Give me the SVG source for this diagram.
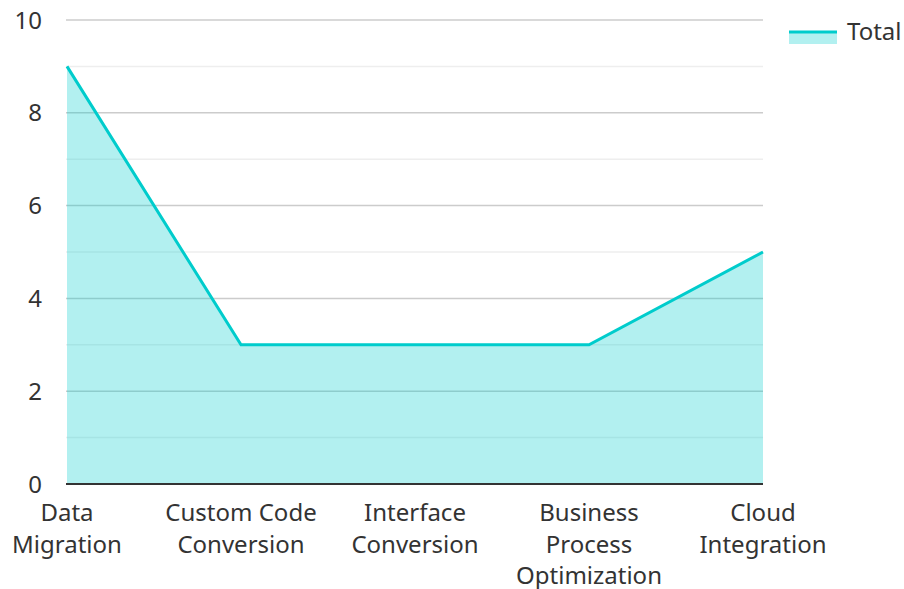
<svg xmlns="http://www.w3.org/2000/svg" width="904" height="589" viewBox="0 0 904 589">
<style>
text{font-family:"Noto Sans","Open Sans",sans-serif;font-size:24px;fill:#333}
.maj{stroke:#cccccc;stroke-width:1.5}
.min{stroke:#eeeeee;stroke-width:1.5}
.yl{text-anchor:end}
.xl{text-anchor:middle}
</style>
<rect width="904" height="589" fill="#fff"/>
<g id="grid">
<line class="min" x1="66" y1="66.4" x2="763" y2="66.4"/>
<line class="min" x1="66" y1="159.2" x2="763" y2="159.2"/>
<line class="min" x1="66" y1="252" x2="763" y2="252"/>
<line class="min" x1="66" y1="344.8" x2="763" y2="344.8"/>
<line class="min" x1="66" y1="437.6" x2="763" y2="437.6"/>
<line class="maj" x1="66" y1="20" x2="763" y2="20"/>
<line class="maj" x1="66" y1="112.8" x2="763" y2="112.8"/>
<line class="maj" x1="66" y1="205.6" x2="763" y2="205.6"/>
<line class="maj" x1="66" y1="298.4" x2="763" y2="298.4"/>
<line class="maj" x1="66" y1="391.2" x2="763" y2="391.2"/>
</g>
<g id="yaxis">
<text class="yl" x="42" y="29">10</text>
<text class="yl" x="42" y="121">8</text>
<text class="yl" x="42" y="214">6</text>
<text class="yl" x="42" y="307">4</text>
<text class="yl" x="42" y="400">2</text>
<text class="yl" x="42" y="493">0</text>
</g>
<g id="series">
<polygon points="67,66.4 241,344.8 415,344.8 589,344.8 763,252 763,484 67,484" fill="#00cccc" fill-opacity="0.3"/>
<polyline points="67,66.4 241,344.8 415,344.8 589,344.8 763,252" fill="none" stroke="#00cccc" stroke-width="3" stroke-linejoin="miter"/>
</g>
<line id="xaxis" x1="66" y1="484" x2="763" y2="484" stroke="#333" stroke-width="2"/>
<g id="xlabels">
<text class="xl" x="67" y="521">Data</text>
<text class="xl" x="67" y="553">Migration</text>
<text class="xl" x="241" y="521">Custom Code</text>
<text class="xl" x="241" y="553">Conversion</text>
<text class="xl" x="415" y="521">Interface</text>
<text class="xl" x="415" y="553">Conversion</text>
<text class="xl" x="589" y="521">Business</text>
<text class="xl" x="589" y="553">Process</text>
<text class="xl" x="589" y="584">Optimization</text>
<text class="xl" x="763" y="521">Cloud</text>
<text class="xl" x="763" y="553">Integration</text>
</g>
<g id="legend">
<rect x="789" y="32" width="48" height="12" fill="#00cccc" fill-opacity="0.3"/>
<line x1="789" y1="32" x2="837" y2="32" stroke="#00cccc" stroke-width="3"/>
<text x="847" y="40">Total</text>
</g>
</svg>
